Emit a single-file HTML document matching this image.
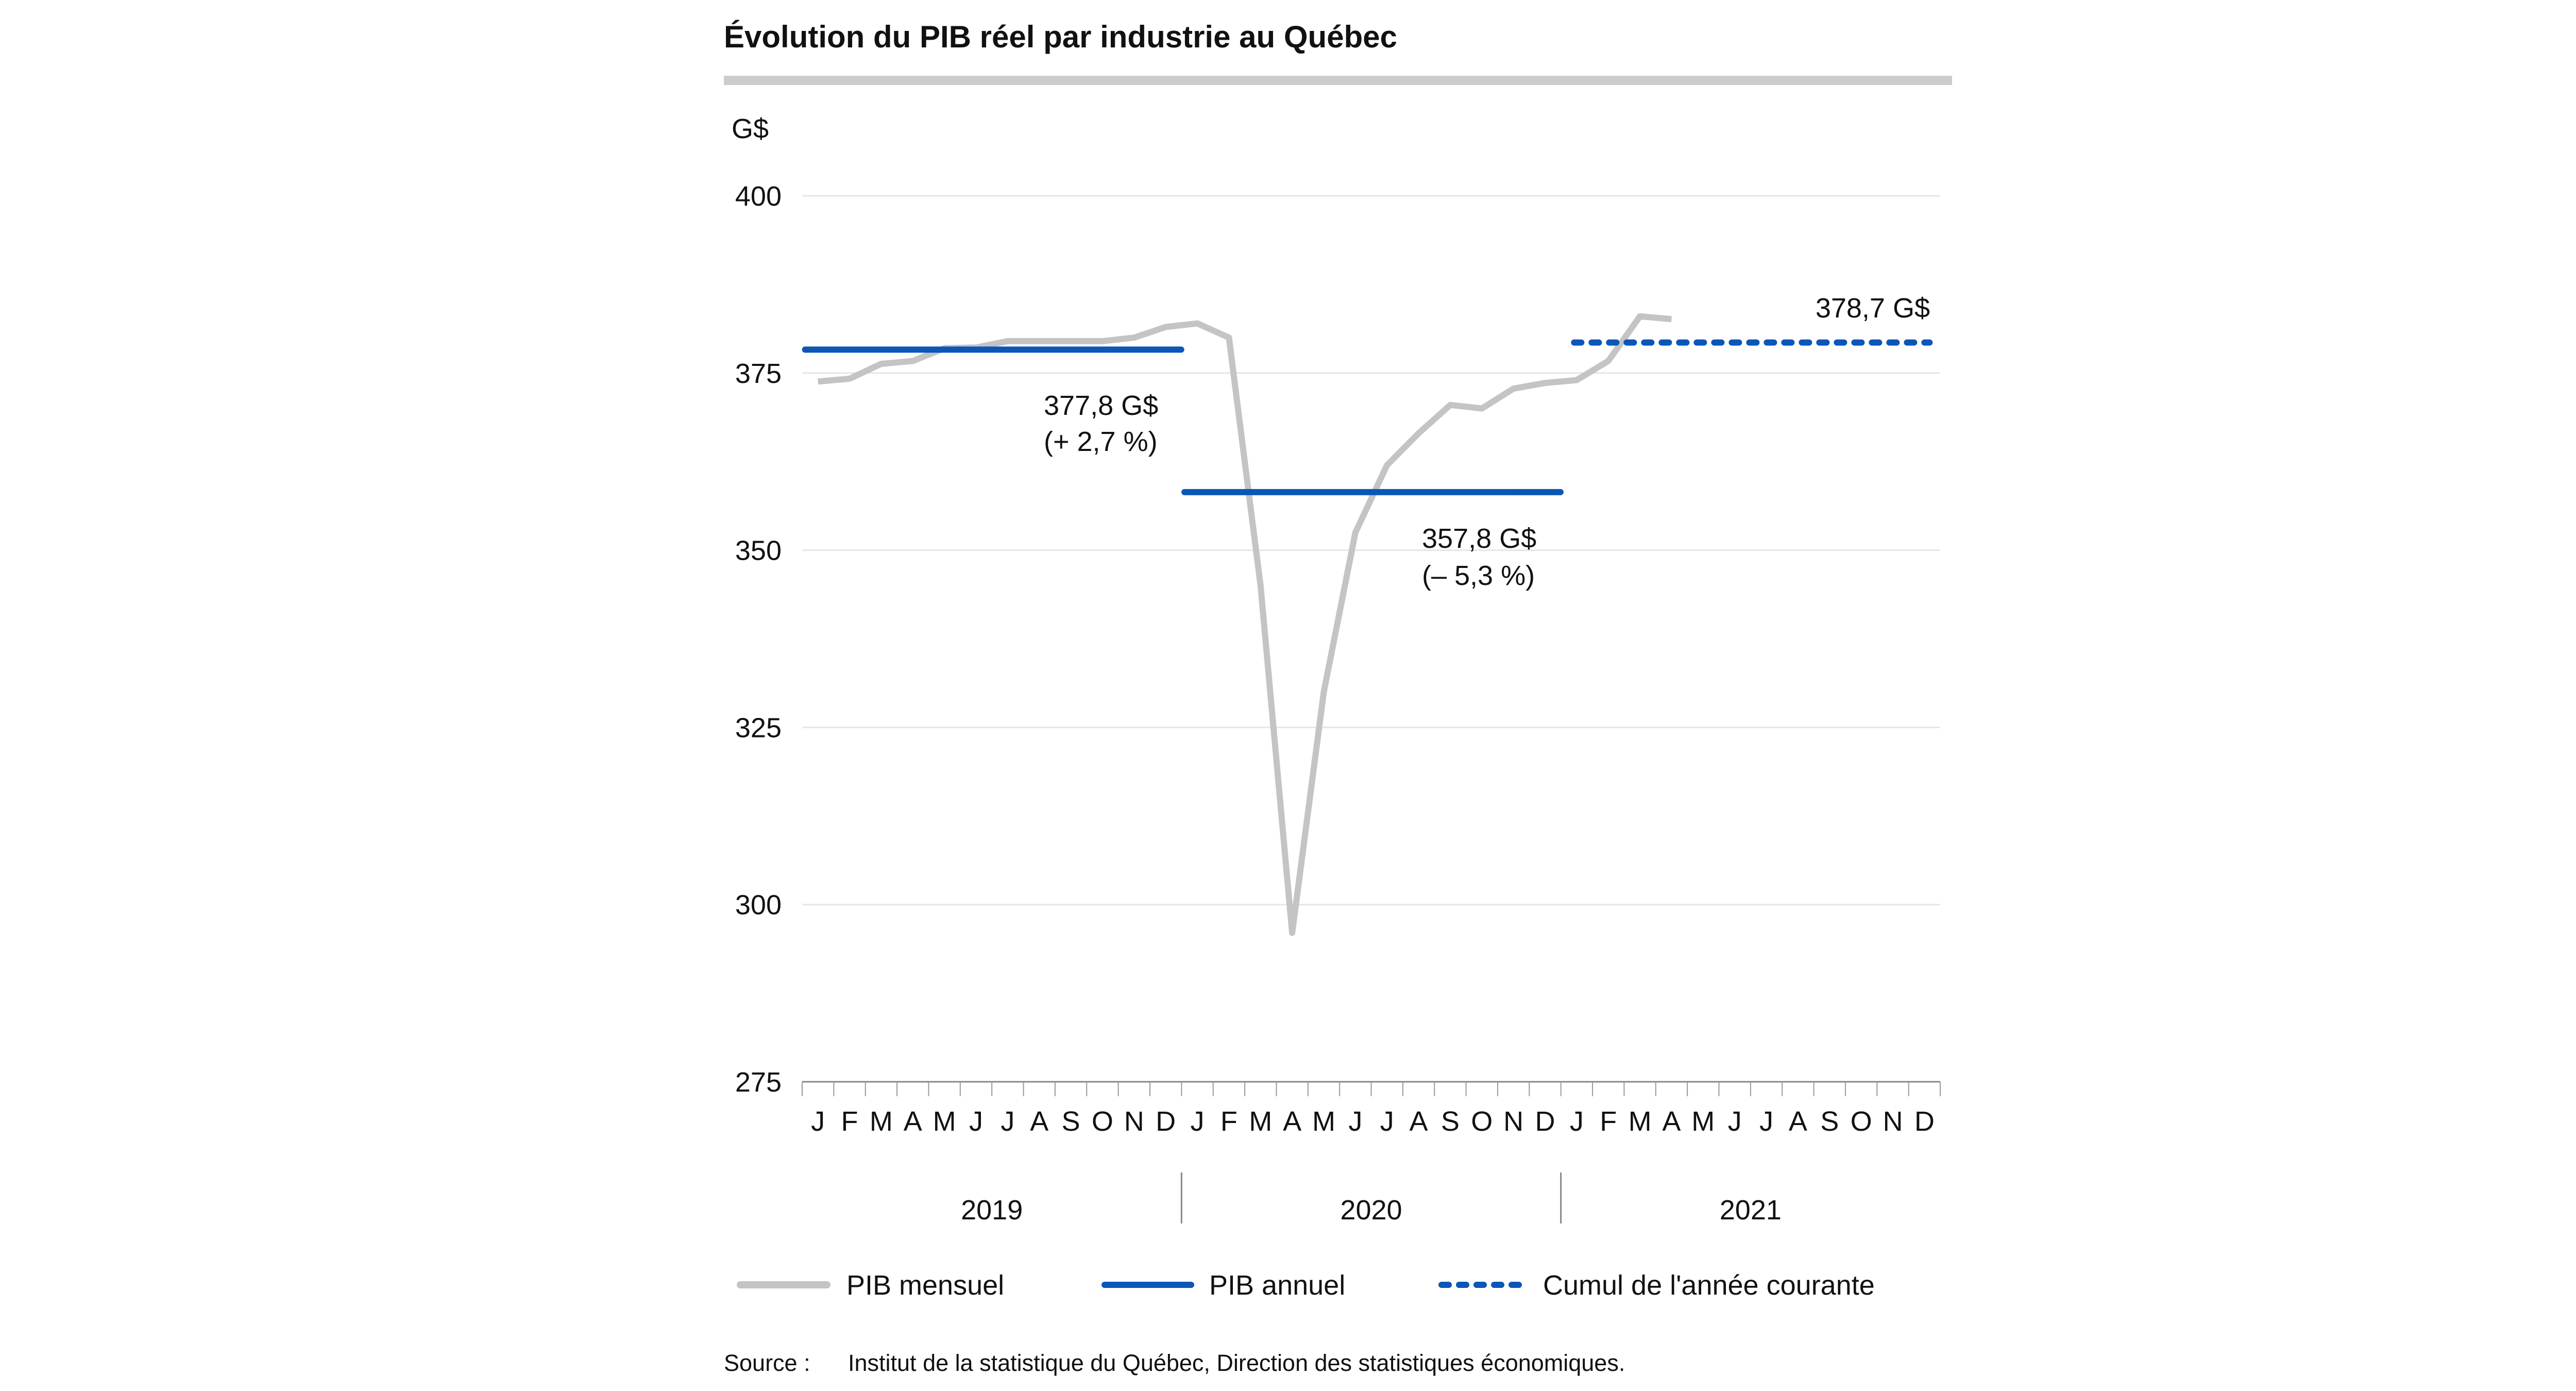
<!DOCTYPE html>
<html><head><meta charset="utf-8"><style>
html,body{margin:0;padding:0;background:#fff;}
svg{display:block;font-family:"Liberation Sans",sans-serif;}
</style></head><body>
<svg id="chart" width="5157" height="2699" viewBox="0 0 5157 2699" xmlns="http://www.w3.org/2000/svg">
<text x="1405" y="92" font-size="60" font-weight="bold" fill="#111">Évolution du PIB réel par industrie au Québec</text>
<rect x="1405" y="147" width="2384" height="18" fill="#cccccc"/>
<text x="1420" y="268" font-size="54" fill="#111">G$</text>
<g id="grid"></g><g id="xaxis"></g><g id="series"></g>
<text x="2026" y="805" font-size="54" fill="#111">377,8 G$</text>
<text x="2026" y="875" font-size="54" fill="#111">(+ 2,7 %)</text>
<text x="2760" y="1063" font-size="54" fill="#111">357,8 G$</text>
<text x="2760" y="1135" font-size="54" fill="#111">(– 5,3 %)</text>
<text x="3746" y="616" font-size="54" fill="#111" text-anchor="end">378,7 G$</text>
<g>
<line x1="1437" y1="2493" x2="1605" y2="2493" stroke="#c4c4c4" stroke-width="14" stroke-linecap="round"/>
<text x="1643" y="2512" font-size="54" fill="#111">PIB mensuel</text>
<line x1="2144" y1="2493" x2="2312" y2="2493" stroke="#0b56b7" stroke-width="12" stroke-linecap="round"/>
<text x="2347" y="2512" font-size="54" fill="#111">PIB annuel</text>
<line x1="2798" y1="2493" x2="2964" y2="2493" stroke="#0b56b7" stroke-width="12" stroke-dasharray="14 20" stroke-linecap="round"/>
<text x="2995" y="2512" font-size="54" fill="#111">Cumul de l'année courante</text>
</g>
<text x="1405" y="2660" font-size="45" fill="#111">Source :</text>
<text x="1646" y="2660" font-size="45" fill="#111">Institut de la statistique du Québec, Direction des statistiques économiques.</text>
</svg>
<script>
const yTicks = [275, 300, 325, 350, 375, 400];
const months = ["J","F","M","A","M","J","J","A","S","O","N","D"];
const years = ["2019","2020","2021"];
const monthly = [373.8,374.2,376.3,376.7,378.5,378.6,379.5,379.5,379.5,379.5,380.0,381.5,
                 382.0,380.0,345.0,296.0,330.0,352.5,362.0,366.5,370.5,370.0,372.8,373.6,
                 374.0,376.7,383.0,382.6];
const annual = [378.3, 358.2];
const cumul = [379.3];

const NS = "http://www.w3.org/2000/svg";
const X0 = 1557, X1 = 3766, NM = 36, BW = (X1 - X0) / NM;
const yScale = v => 2099 - (v - 275) / 125 * (2099 - 380);
const xScale = i => X0 + BW * (i + 0.5);
function mk(tag, attrs, parent){ const e = document.createElementNS(NS, tag); for (const k in attrs) e.setAttribute(k, attrs[k]); parent.appendChild(e); return e; }

const grid = document.getElementById('grid');
yTicks.forEach(t => {
  const y = yScale(t);
  if (t !== 275) {
    const l = mk('line', {x1: X0, x2: X1, y1: y, y2: y, stroke: '#e6e6e6', 'stroke-width': 3}, grid);
    
    
  }
  const tx = mk('text', {x: 1517, y: y + 19, 'font-size': 54, fill: '#111', 'text-anchor': 'end'}, grid);
  tx.textContent = t;
  
  
});

const xa = document.getElementById('xaxis');
const ax = mk('line', {x1: X0, x2: X1, y1: yScale(275), y2: yScale(275), stroke: '#888', 'stroke-width': 3}, xa);


for (let i = 0; i <= NM; i++) {
  const x = X0 + BW * i;
  const tk = mk('line', {x1: x, x2: x, y1: yScale(275), y2: yScale(275) + 28, stroke: '#999', 'stroke-width': 2}, xa);
  
  
  if (i < NM) {
    const t = mk('text', {x: xScale(i), y: 2194, 'font-size': 54, fill: '#111', 'text-anchor': 'middle'}, xa);
    t.textContent = months[i % 12];
    
    
  }
}
years.forEach((yr, k) => {
  const t = mk('text', {x: X0 + BW * (12 * k + 6), y: 2366, 'font-size': 54, fill: '#111', 'text-anchor': 'middle'}, xa);
  t.textContent = yr;
  
  
  if (k > 0) {
    const s = mk('line', {x1: X0 + BW * 12 * k, x2: X0 + BW * 12 * k, y1: 2275, y2: 2374, stroke: '#888', 'stroke-width': 3}, xa);
    
    
  }
});

const sg = document.getElementById('series');
const pl = mk('polyline', {points: monthly.map((v, i) => xScale(i) + ',' + yScale(v)).join(' '), fill: 'none', stroke: '#c4c4c4', 'stroke-width': 12, 'stroke-linejoin': 'round'}, sg);


annual.forEach((v, k) => {
  const l = mk('line', {x1: xScale(12 * k) - 25, x2: xScale(12 * k + 11) + 30, y1: yScale(v), y2: yScale(v), stroke: '#0b56b7', 'stroke-width': 12, 'stroke-linecap': 'round'}, sg);
  
  
});
cumul.forEach(v => {
  const l = mk('line', {x1: xScale(24) - 5, x2: xScale(35) + 10, y1: yScale(v), y2: yScale(v), stroke: '#0b56b7', 'stroke-width': 12, 'stroke-dasharray': '14 20', 'stroke-linecap': 'round'}, sg);
  
  
});
</script>
</body></html>
